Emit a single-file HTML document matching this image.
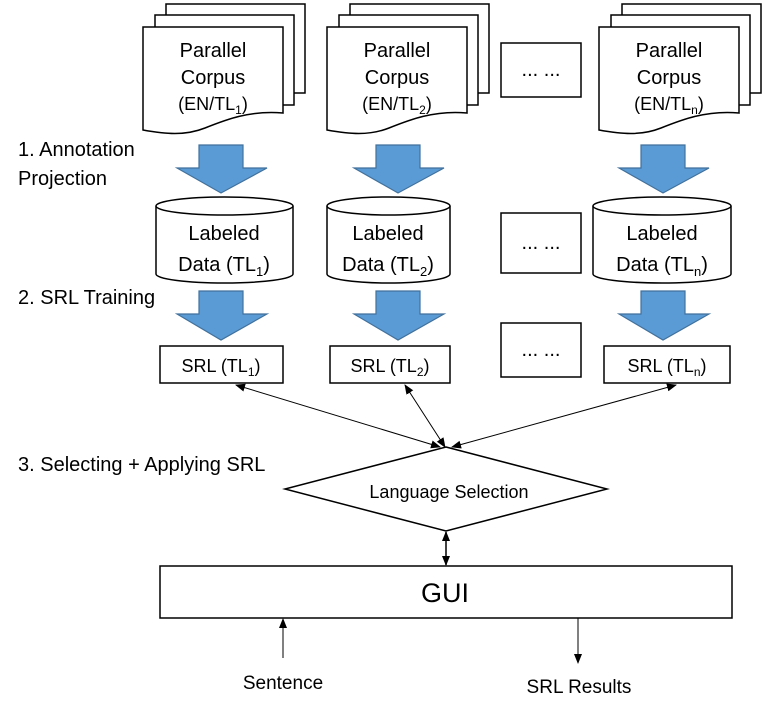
<!DOCTYPE html>
<html><head><meta charset="utf-8"><style>
html,body{margin:0;padding:0;background:#fff;}
svg text{font-family:"Liberation Sans",sans-serif;fill:#000;}
</style></head><body>
<svg width="766" height="721" viewBox="0 0 766 721" xmlns="http://www.w3.org/2000/svg">
<defs>
<marker id="ah" markerWidth="10" markerHeight="10" refX="9" refY="5" orient="auto-start-reverse" markerUnits="userSpaceOnUse">
<path d="M0,1 L10,5 L0,9 Z" fill="#000"/>
</marker>
</defs>
<g stroke="#000" stroke-width="1.5" fill="#fff">
<g>
<path d="M166,4 H305 V93 H166 Z"/>
<path d="M155,15 H294 V105 H155 Z"/>
<path d="M143,27 H283 V113 C250,110 225,120 205,128 C185,136 165,134 143,130 Z"/>
</g>
<g transform="translate(184,0)">
<path d="M166,4 H305 V93 H166 Z"/>
<path d="M155,15 H294 V105 H155 Z"/>
<path d="M143,27 H283 V113 C250,110 225,120 205,128 C185,136 165,134 143,130 Z"/>
</g>
<g transform="translate(456,0)">
<path d="M166,4 H305 V93 H166 Z"/>
<path d="M155,15 H294 V105 H155 Z"/>
<path d="M143,27 H283 V113 C250,110 225,120 205,128 C185,136 165,134 143,130 Z"/>
</g>
<rect x="501" y="43" width="80" height="54"/>
<rect x="501" y="213" width="80" height="60"/>
<rect x="501" y="323" width="80" height="54"/>
<path d="M156,206 V274 A68.5,9 0 0 0 293,274 V206"/>
<ellipse cx="224.5" cy="206" rx="68.5" ry="9"/>
<path d="M327,206 V274 A61.5,9 0 0 0 450,274 V206"/>
<ellipse cx="388.5" cy="206" rx="61.5" ry="9"/>
<path d="M593,206 V274 A69,9 0 0 0 731,274 V206"/>
<ellipse cx="662" cy="206" rx="69" ry="9"/>
<rect x="160" y="346" width="123" height="37"/>
<rect x="330" y="346" width="120" height="37"/>
<rect x="604" y="346" width="126" height="37"/>
<path d="M446,447 L607,489 L446,531 L285,489 Z"/>
<rect x="160" y="566" width="572" height="52"/>
</g>
<g fill="#5b9bd5" stroke="#41719c" stroke-width="1.2">
<path d="M199,145 H243 V168 H267 L221,193 L177,168 H199 Z"/>
<path d="M199,291 H243 V314 H267 L221,340 L177,314 H199 Z"/>
<path d="M376,145 H420 V168 H444 L398,193 L354,168 H376 Z"/>
<path d="M376,291 H420 V314 H444 L398,340 L354,314 H376 Z"/>
<path d="M641,145 H685 V168 H709 L663,193 L619,168 H641 Z"/>
<path d="M641,291 H685 V314 H709 L663,340 L619,314 H641 Z"/>
</g>
<g stroke="#000" stroke-width="1" fill="none">
<line x1="236" y1="385" x2="440" y2="447" marker-start="url(#ah)" marker-end="url(#ah)"/>
<line x1="405" y1="385" x2="445" y2="447" marker-start="url(#ah)" marker-end="url(#ah)"/>
<line x1="676" y1="385" x2="452" y2="447" marker-start="url(#ah)" marker-end="url(#ah)"/>
<line x1="446" y1="532" x2="446" y2="565" stroke-width="1.5" marker-start="url(#ah)" marker-end="url(#ah)"/>
<line x1="283" y1="658" x2="283" y2="619" marker-end="url(#ah)"/>
<line x1="578" y1="618" x2="578" y2="663" marker-end="url(#ah)"/>
</g>
<g font-size="20" text-anchor="middle">
<text x="213" y="57">Parallel</text>
<text x="213" y="84">Corpus</text>
<text x="213" y="110" font-size="18">(EN/TL<tspan font-size="12" dy="4">1</tspan><tspan dy="-4">)</tspan></text>
<text x="397" y="57">Parallel</text>
<text x="397" y="84">Corpus</text>
<text x="397" y="110" font-size="18">(EN/TL<tspan font-size="12" dy="4">2</tspan><tspan dy="-4">)</tspan></text>
<text x="669" y="57">Parallel</text>
<text x="669" y="84">Corpus</text>
<text x="669" y="110" font-size="18">(EN/TL<tspan font-size="12" dy="4">n</tspan><tspan dy="-4">)</tspan></text>
<text x="541" y="76">... ...</text>
<text x="541" y="249">... ...</text>
<text x="541" y="356">... ...</text>
<text x="224" y="240">Labeled</text>
<text x="224" y="271">Data (TL<tspan font-size="13" dy="5">1</tspan><tspan dy="-5">)</tspan></text>
<text x="388" y="240">Labeled</text>
<text x="388" y="271">Data (TL<tspan font-size="13" dy="5">2</tspan><tspan dy="-5">)</tspan></text>
<text x="662" y="240">Labeled</text>
<text x="662" y="271">Data (TL<tspan font-size="13" dy="5">n</tspan><tspan dy="-5">)</tspan></text>
<text x="221" y="372" font-size="18">SRL (TL<tspan font-size="12" dy="4">1</tspan><tspan dy="-4">)</tspan></text>
<text x="390" y="372" font-size="18">SRL (TL<tspan font-size="12" dy="4">2</tspan><tspan dy="-4">)</tspan></text>
<text x="667" y="372" font-size="18">SRL (TL<tspan font-size="12" dy="4">n</tspan><tspan dy="-4">)</tspan></text>
<text x="449" y="498" font-size="18">Language Selection</text>
<text x="445" y="602" font-size="27">GUI</text>
<text x="283" y="689" font-size="19">Sentence</text>
<text x="579" y="693" font-size="19">SRL Results</text>
</g>
<g font-size="20">
<text x="18" y="156">1. Annotation</text>
<text x="18" y="185">Projection</text>
<text x="18" y="304">2. SRL Training</text>
<text x="18" y="471">3. Selecting + Applying SRL</text>
</g>
</svg>
</body></html>
